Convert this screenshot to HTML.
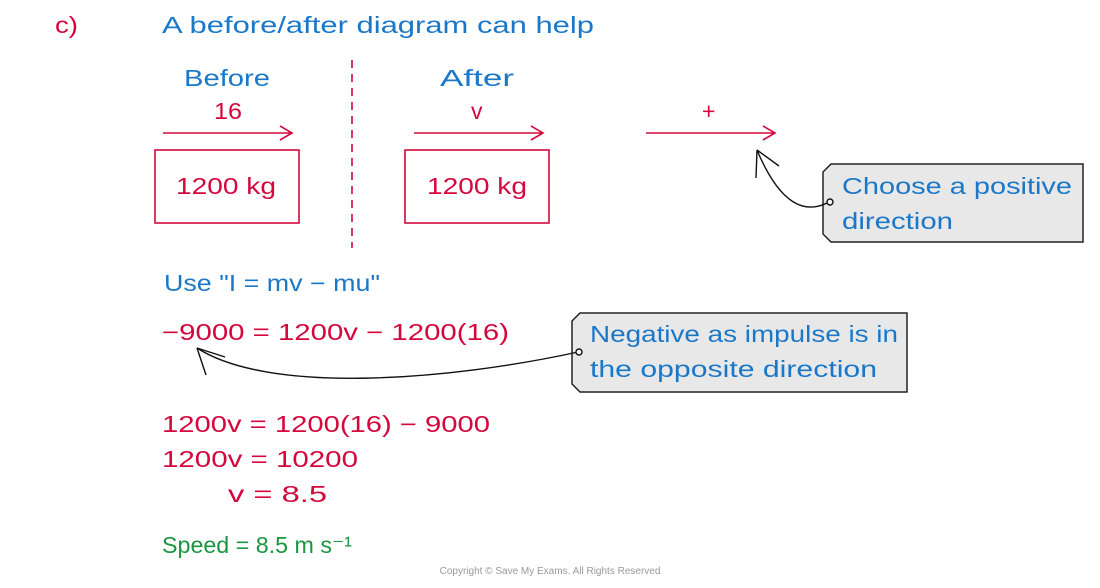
<!DOCTYPE html>
<html><head><meta charset="utf-8"><style>
html,body{margin:0;padding:0;background:#fff}
svg{display:block}
text{font-family:"Liberation Sans",sans-serif}
</style></head><body>
<svg width="1100" height="588" viewBox="0 0 1100 588" xmlns="http://www.w3.org/2000/svg">
<g font-size="23" lengthAdjust="spacingAndGlyphs">
<text x="55" y="33" fill="#d4083c" textLength="23" lengthAdjust="spacingAndGlyphs">c)</text>
<text x="162" y="33" fill="#1b78c8" textLength="432" lengthAdjust="spacingAndGlyphs">A before/after diagram can help</text>
<text x="184" y="86" fill="#1b78c8" textLength="86" lengthAdjust="spacingAndGlyphs">Before</text>
<text x="440" y="86" fill="#1b78c8" textLength="74" lengthAdjust="spacingAndGlyphs">After</text>
<text x="214" y="119" fill="#d4083c" textLength="28" lengthAdjust="spacingAndGlyphs">16</text>
<text x="471" y="119" fill="#d4083c">v</text>
<text x="702" y="119" fill="#d4083c">+</text>
</g>
<g stroke="#d4083c" stroke-width="1.6" fill="none">
<path d="M163 133 H292 M280 126 L292 133 L280 140"/>
<path d="M414 133 H543 M531 126 L543 133 L531 140"/>
<path d="M646 133 H775 M763 126 L775 133 L763 140"/>
<rect x="155" y="150" width="144" height="73"/>
<rect x="405" y="150" width="144" height="73"/>
<path d="M352 60 V248" stroke-dasharray="8,6"/>
</g>
<g font-size="23" fill="#d4083c">
<text x="176" y="194" textLength="100" lengthAdjust="spacingAndGlyphs">1200 kg</text>
<text x="427" y="194" textLength="100" lengthAdjust="spacingAndGlyphs">1200 kg</text>
<text x="162" y="340" textLength="347" lengthAdjust="spacingAndGlyphs">−9000 = 1200v − 1200(16)</text>
<text x="162" y="432" textLength="328" lengthAdjust="spacingAndGlyphs">1200v = 1200(16) − 9000</text>
<text x="162" y="467" textLength="196" lengthAdjust="spacingAndGlyphs">1200v = 10200</text>
<text x="228" y="502" textLength="99" lengthAdjust="spacingAndGlyphs">v = 8.5</text>
</g>
<text x="164" y="291" font-size="23" fill="#1b78c8" textLength="216" lengthAdjust="spacingAndGlyphs">Use "I = mv − mu"</text>
<text x="162" y="553" font-size="23" fill="#1a9641" textLength="190" lengthAdjust="spacingAndGlyphs">Speed = 8.5 m s⁻¹</text>
<path d="M831 164 H1083 V242 H831 L823 234 V172 Z" fill="#e8e8e8" stroke="#222" stroke-width="1.5"/>
<path d="M580 313 H907 V392 H580 L572 384 V321 Z" fill="#e8e8e8" stroke="#222" stroke-width="1.5"/>
<g font-size="23" fill="#1b78c8">
<text x="842" y="194" textLength="230" lengthAdjust="spacingAndGlyphs">Choose a positive</text>
<text x="842" y="229" textLength="111" lengthAdjust="spacingAndGlyphs">direction</text>
<text x="590" y="342" textLength="308" lengthAdjust="spacingAndGlyphs">Negative as impulse is in</text>
<text x="590" y="377" textLength="287" lengthAdjust="spacingAndGlyphs">the opposite direction</text>
</g>
<g stroke="#111" stroke-width="1.4" fill="none">
<path d="M829 202 C805 215 780 205 757 150"/>
<path d="M757 150 L779 166 M757 150 L756 178"/>
<circle cx="830" cy="202" r="3" fill="#fff"/>
<path d="M578 352 C450 380 270 395 197 348"/>
<path d="M197 348 L225 357 M197 348 L206 375"/>
<circle cx="579" cy="352" r="3" fill="#fff"/>
</g>
<text x="550" y="574" font-size="10" fill="#999" text-anchor="middle">Copyright © Save My Exams. All Rights Reserved</text>
</svg>
</body></html>
